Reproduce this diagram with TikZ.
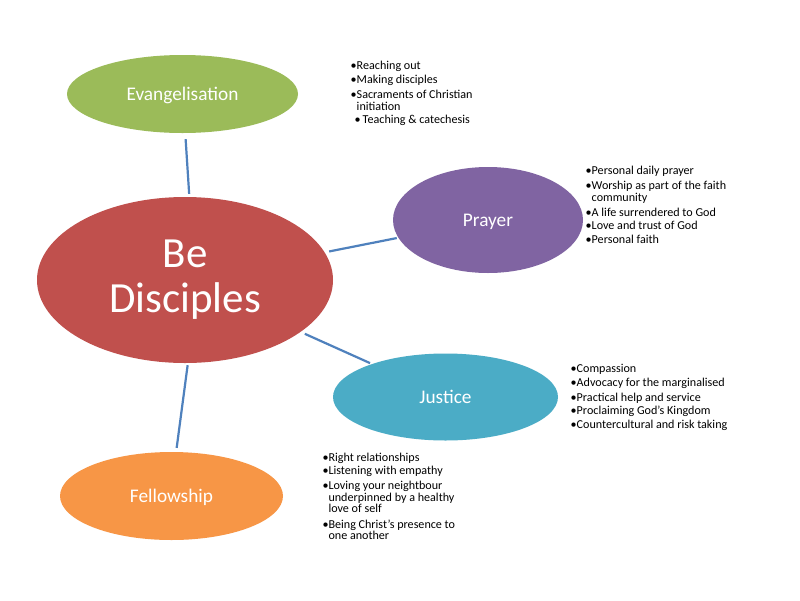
\documentclass[tikz,border=0pt]{standalone}
\usepackage{fontspec}
\setmainfont{Carlito}
\usetikzlibrary{shapes.geometric}
\definecolor{cgreen}{HTML}{9BBB59}
\definecolor{cred}{HTML}{C0504D}
\definecolor{cpurple}{HTML}{8064A2}
\definecolor{cblue}{HTML}{4BACC6}
\definecolor{corange}{HTML}{F79646}
\definecolor{lineblue}{HTML}{4F81BD}
\begin{document}
\begin{tikzpicture}[x=1pt,y=-1pt,
  bub/.style={ellipse, inner sep=0pt, text=white},
  lab/.style={font=\fontsize{19.3}{23}\selectfont, text height=12.4pt, text depth=0pt},
  conn/.style={draw=lineblue, line width=2.2pt},
  itm/.style={anchor=mid west, inner sep=0pt, font=\fontsize{12.1}{14}\selectfont, text=black, yshift=-2pt}]
\useasboundingbox[fill=white] (0,0) rectangle (800,600);

% bubbles
\node[bub, lab, fill=cgreen, minimum width=231pt, minimum height=78pt] (evan) at (182.5,94) {Evangelisation};
\node[bub, fill=cred, minimum width=296pt, minimum height=166pt, align=center, font=\fontsize{43}{45}\selectfont] (be) at (185,280) {Be\\Disciples};
\node[bub, lab, fill=cpurple, minimum width=190pt, minimum height=106pt] (pr) at (488,220) {Prayer};
\node[bub, lab, fill=cblue, minimum width=225pt, minimum height=87pt] (jus) at (445.5,397) {Justice};
\node[bub, lab, fill=corange, minimum width=223pt, minimum height=88pt] (fel) at (171.5,496) {Fellowship};

% connectors
\draw[conn, shorten <=6pt, shorten >=3pt] (evan.-86) -- (be.87);
\draw[conn, shorten <=4.5pt, shorten >=1.5pt] (be) -- (pr);
\draw[conn, shorten <=4.5pt, shorten >=2pt] (be) -- (jus);
\draw[conn, shorten <=2pt, shorten >=4pt] (be.-88) -- (fel.84);

% Evangelisation list
\node[itm] (e1) at (350.5,65) {•Reaching out};
\node[itm] (e2) at (350.5,79.3) {•Making disciples};
\node[itm] (e3) at (350.5,94.3) {•Sacraments of Christian};
\node[itm] (e4) at (350.5,106.5) {\phantom{•}initiation};
\node[itm] (e5) at (354.5,119.3) {•\,Teaching \& catechesis};

% Prayer list
\node[itm] (p1) at (585.5,170) {•Personal daily prayer};
\node[itm] (p2) at (585.5,185) {•Worship as part of the faith};
\node[itm] (p3) at (585.5,197.3) {\phantom{•}community};
\node[itm] (p4) at (585.5,211.7) {•A life surrendered to God};
\node[itm] (p5) at (585.5,224.8) {•Love and trust of God};
\node[itm] (p6) at (585.5,239.5) {•Personal faith};

% Justice list
\node[itm] (j1) at (570.5,368.3) {•Compassion};
\node[itm] (j2) at (570.5,382.3) {•Advocacy for the marginalised};
\node[itm] (j3) at (570.5,396.7) {•Practical help and service};
\node[itm] (j4) at (570.5,410.3) {•Proclaiming God's Kingdom};
\node[itm] (j5) at (570.5,424.3) {•Countercultural and risk taking};

% Fellowship list
\node[itm] (f1) at (322.3,456.7) {•Right relationships};
\node[itm] (f2) at (322.3,470.3) {•Listening with empathy};
\node[itm] (f3) at (322.3,485) {•Loving your neightbour};
\node[itm] (f4) at (322.3,496.7) {\phantom{•}underpinned by a healthy};
\node[itm] (f5) at (322.3,508.5) {\phantom{•}love of self};
\node[itm] (f6) at (322.3,524) {•Being Christ's presence to};
\node[itm] (f7) at (322.3,535.5) {\phantom{•}one another};
\end{tikzpicture}
\end{document}
